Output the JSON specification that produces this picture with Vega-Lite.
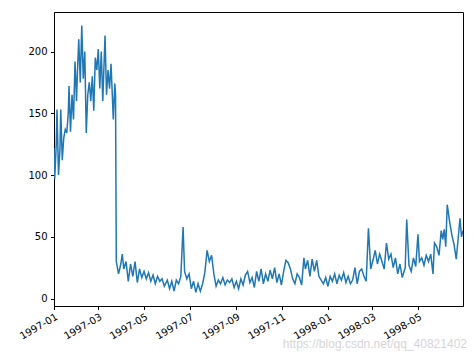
{
  "$schema": "https://vega.github.io/schema/vega-lite/v6.json",
  "width": 409,
  "height": 294,
  "autosize": "none",
  "padding": {"left": 54, "top": 12, "right": 11, "bottom": 49},
  "background": "white",
  "config": {
    "view": {"stroke": "black", "strokeWidth": 1},
    "axis": {"domainColor": "black", "tickColor": "black", "labelColor": "black", "labelFont": "DejaVu Sans", "labelFontSize": 10, "tickSize": 3.5, "grid": false, "title": null, "domainWidth": 1, "tickWidth": 1}
  },
  "title": {"text": "https://blog.csdn.net/qq_40821402", "orient": "bottom", "anchor": "end", "color": "#d6d6d6", "fontSize": 12, "font": "Liberation Sans", "fontWeight": "normal", "offset": -2, "dx": 4},
  "data": {"values": [
    {"date": "1997-01-01", "v": 122}, {"date": "1997-01-02", "v": 97}, {"date": "1997-01-04", "v": 125}, {"date": "1997-01-05", "v": 153},
    {"date": "1997-01-07", "v": 100}, {"date": "1997-01-09", "v": 122}, {"date": "1997-01-10", "v": 153}, {"date": "1997-01-12", "v": 112},
    {"date": "1997-01-14", "v": 130}, {"date": "1997-01-16", "v": 137}, {"date": "1997-01-18", "v": 134}, {"date": "1997-01-20", "v": 150},
    {"date": "1997-01-21", "v": 172}, {"date": "1997-01-23", "v": 135}, {"date": "1997-01-25", "v": 165}, {"date": "1997-01-27", "v": 145},
    {"date": "1997-01-29", "v": 192}, {"date": "1997-01-31", "v": 160},
    {"date": "1997-02-01", "v": 180}, {"date": "1997-02-03", "v": 210}, {"date": "1997-02-05", "v": 175}, {"date": "1997-02-07", "v": 221},
    {"date": "1997-02-09", "v": 178}, {"date": "1997-02-11", "v": 200}, {"date": "1997-02-13", "v": 134}, {"date": "1997-02-15", "v": 165},
    {"date": "1997-02-17", "v": 175}, {"date": "1997-02-19", "v": 160}, {"date": "1997-02-21", "v": 180}, {"date": "1997-02-23", "v": 152},
    {"date": "1997-02-25", "v": 195}, {"date": "1997-02-27", "v": 185},
    {"date": "1997-03-01", "v": 202}, {"date": "1997-03-03", "v": 170}, {"date": "1997-03-05", "v": 200}, {"date": "1997-03-07", "v": 160},
    {"date": "1997-03-10", "v": 213}, {"date": "1997-03-12", "v": 165}, {"date": "1997-03-14", "v": 185}, {"date": "1997-03-16", "v": 170},
    {"date": "1997-03-18", "v": 190}, {"date": "1997-03-20", "v": 160}, {"date": "1997-03-21", "v": 145}, {"date": "1997-03-23", "v": 174},
    {"date": "1997-03-24", "v": 165}, {"date": "1997-03-25", "v": 30}, {"date": "1997-03-28", "v": 20}, {"date": "1997-03-31", "v": 28},
    {"date": "1997-04-02", "v": 36}, {"date": "1997-04-04", "v": 24}, {"date": "1997-04-07", "v": 30}, {"date": "1997-04-10", "v": 14},
    {"date": "1997-04-13", "v": 28}, {"date": "1997-04-16", "v": 18}, {"date": "1997-04-19", "v": 30}, {"date": "1997-04-22", "v": 13},
    {"date": "1997-04-25", "v": 24}, {"date": "1997-04-28", "v": 17},
    {"date": "1997-05-01", "v": 22}, {"date": "1997-05-04", "v": 16}, {"date": "1997-05-07", "v": 21}, {"date": "1997-05-10", "v": 14},
    {"date": "1997-05-13", "v": 19}, {"date": "1997-05-16", "v": 12}, {"date": "1997-05-19", "v": 18}, {"date": "1997-05-22", "v": 14},
    {"date": "1997-05-25", "v": 16}, {"date": "1997-05-28", "v": 10},
    {"date": "1997-06-01", "v": 15}, {"date": "1997-06-04", "v": 8}, {"date": "1997-06-07", "v": 14}, {"date": "1997-06-10", "v": 6},
    {"date": "1997-06-13", "v": 15}, {"date": "1997-06-16", "v": 12}, {"date": "1997-06-19", "v": 18}, {"date": "1997-06-22", "v": 58},
    {"date": "1997-06-24", "v": 22}, {"date": "1997-06-27", "v": 16}, {"date": "1997-06-30", "v": 20},
    {"date": "1997-07-03", "v": 8}, {"date": "1997-07-06", "v": 14}, {"date": "1997-07-09", "v": 5}, {"date": "1997-07-12", "v": 12},
    {"date": "1997-07-15", "v": 6}, {"date": "1997-07-18", "v": 12}, {"date": "1997-07-21", "v": 21}, {"date": "1997-07-24", "v": 39},
    {"date": "1997-07-27", "v": 30}, {"date": "1997-07-30", "v": 35},
    {"date": "1997-08-02", "v": 20}, {"date": "1997-08-05", "v": 10}, {"date": "1997-08-08", "v": 15}, {"date": "1997-08-11", "v": 12},
    {"date": "1997-08-14", "v": 17}, {"date": "1997-08-17", "v": 11}, {"date": "1997-08-20", "v": 15}, {"date": "1997-08-23", "v": 13},
    {"date": "1997-08-26", "v": 16}, {"date": "1997-08-29", "v": 9},
    {"date": "1997-09-01", "v": 14}, {"date": "1997-09-04", "v": 8}, {"date": "1997-09-07", "v": 16}, {"date": "1997-09-10", "v": 11},
    {"date": "1997-09-13", "v": 19}, {"date": "1997-09-16", "v": 22}, {"date": "1997-09-19", "v": 13}, {"date": "1997-09-22", "v": 17},
    {"date": "1997-09-25", "v": 9}, {"date": "1997-09-28", "v": 22},
    {"date": "1997-10-01", "v": 14}, {"date": "1997-10-04", "v": 24}, {"date": "1997-10-07", "v": 12}, {"date": "1997-10-10", "v": 20},
    {"date": "1997-10-13", "v": 14}, {"date": "1997-10-16", "v": 23}, {"date": "1997-10-19", "v": 16}, {"date": "1997-10-22", "v": 25},
    {"date": "1997-10-25", "v": 13}, {"date": "1997-10-28", "v": 20}, {"date": "1997-10-31", "v": 11},
    {"date": "1997-11-03", "v": 22}, {"date": "1997-11-06", "v": 31}, {"date": "1997-11-09", "v": 29}, {"date": "1997-11-12", "v": 24},
    {"date": "1997-11-15", "v": 16}, {"date": "1997-11-18", "v": 12}, {"date": "1997-11-21", "v": 20}, {"date": "1997-11-24", "v": 17},
    {"date": "1997-11-27", "v": 11}, {"date": "1997-11-30", "v": 33},
    {"date": "1997-12-02", "v": 24}, {"date": "1997-12-05", "v": 31}, {"date": "1997-12-08", "v": 18}, {"date": "1997-12-11", "v": 32},
    {"date": "1997-12-14", "v": 22}, {"date": "1997-12-17", "v": 31}, {"date": "1997-12-20", "v": 18}, {"date": "1997-12-23", "v": 15},
    {"date": "1997-12-26", "v": 12}, {"date": "1997-12-29", "v": 17},
    {"date": "1998-01-01", "v": 10}, {"date": "1998-01-04", "v": 18}, {"date": "1998-01-07", "v": 14}, {"date": "1998-01-10", "v": 20},
    {"date": "1998-01-13", "v": 12}, {"date": "1998-01-16", "v": 19}, {"date": "1998-01-19", "v": 15}, {"date": "1998-01-22", "v": 21},
    {"date": "1998-01-25", "v": 13}, {"date": "1998-01-28", "v": 18}, {"date": "1998-01-31", "v": 12},
    {"date": "1998-02-03", "v": 15}, {"date": "1998-02-06", "v": 25}, {"date": "1998-02-09", "v": 12}, {"date": "1998-02-12", "v": 22},
    {"date": "1998-02-15", "v": 24}, {"date": "1998-02-18", "v": 18}, {"date": "1998-02-21", "v": 14}, {"date": "1998-02-24", "v": 57},
    {"date": "1998-02-27", "v": 24},
    {"date": "1998-03-02", "v": 31}, {"date": "1998-03-05", "v": 39}, {"date": "1998-03-08", "v": 28}, {"date": "1998-03-11", "v": 36},
    {"date": "1998-03-14", "v": 30}, {"date": "1998-03-17", "v": 24}, {"date": "1998-03-20", "v": 45}, {"date": "1998-03-23", "v": 32},
    {"date": "1998-03-26", "v": 36}, {"date": "1998-03-29", "v": 25},
    {"date": "1998-04-01", "v": 33}, {"date": "1998-04-04", "v": 20}, {"date": "1998-04-07", "v": 28}, {"date": "1998-04-10", "v": 17},
    {"date": "1998-04-14", "v": 25}, {"date": "1998-04-16", "v": 64}, {"date": "1998-04-19", "v": 27}, {"date": "1998-04-22", "v": 22},
    {"date": "1998-04-25", "v": 33}, {"date": "1998-04-28", "v": 26},
    {"date": "1998-05-01", "v": 52}, {"date": "1998-05-03", "v": 30}, {"date": "1998-05-06", "v": 33}, {"date": "1998-05-09", "v": 27},
    {"date": "1998-05-12", "v": 35}, {"date": "1998-05-15", "v": 30}, {"date": "1998-05-18", "v": 36}, {"date": "1998-05-21", "v": 20},
    {"date": "1998-05-23", "v": 45}, {"date": "1998-05-26", "v": 42}, {"date": "1998-05-29", "v": 35},
    {"date": "1998-06-01", "v": 55}, {"date": "1998-06-03", "v": 48}, {"date": "1998-06-05", "v": 56}, {"date": "1998-06-07", "v": 42},
    {"date": "1998-06-09", "v": 76}, {"date": "1998-06-12", "v": 63}, {"date": "1998-06-15", "v": 52}, {"date": "1998-06-18", "v": 44},
    {"date": "1998-06-21", "v": 32}, {"date": "1998-06-23", "v": 45}, {"date": "1998-06-26", "v": 65}, {"date": "1998-06-28", "v": 50},
    {"date": "1998-06-30", "v": 55}
  ]},
  "mark": {"type": "line", "color": "#1f77b4", "strokeWidth": 1.5, "clip": true},
  "encoding": {
    "x": {
      "field": "date", "type": "temporal",
      "scale": {"type": "utc", "domain": [{"year": 1997, "month": 1, "date": 1, "utc": true}, {"year": 1998, "month": 6, "date": 30, "utc": true}], "nice": false},
      "axis": {
        "values": [
          {"year": 1997, "month": 1, "date": 1, "utc": true}, {"year": 1997, "month": 3, "date": 1, "utc": true},
          {"year": 1997, "month": 5, "date": 1, "utc": true}, {"year": 1997, "month": 7, "date": 1, "utc": true},
          {"year": 1997, "month": 9, "date": 1, "utc": true}, {"year": 1997, "month": 11, "date": 1, "utc": true},
          {"year": 1998, "month": 1, "date": 1, "utc": true}, {"year": 1998, "month": 3, "date": 1, "utc": true},
          {"year": 1998, "month": 5, "date": 1, "utc": true}
        ],
        "format": "%Y-%m", "labelAngle": -30, "labelAlign": "right", "labelBaseline": "top", "labelPadding": 2, "labelOverlap": false, "labelFlush": false
      }
    },
    "y": {
      "field": "v", "type": "quantitative",
      "scale": {"domain": [-6, 232], "nice": false, "zero": false},
      "axis": {"values": [0, 50, 100, 150, 200], "labelPadding": 3.5}
    }
  }
}
